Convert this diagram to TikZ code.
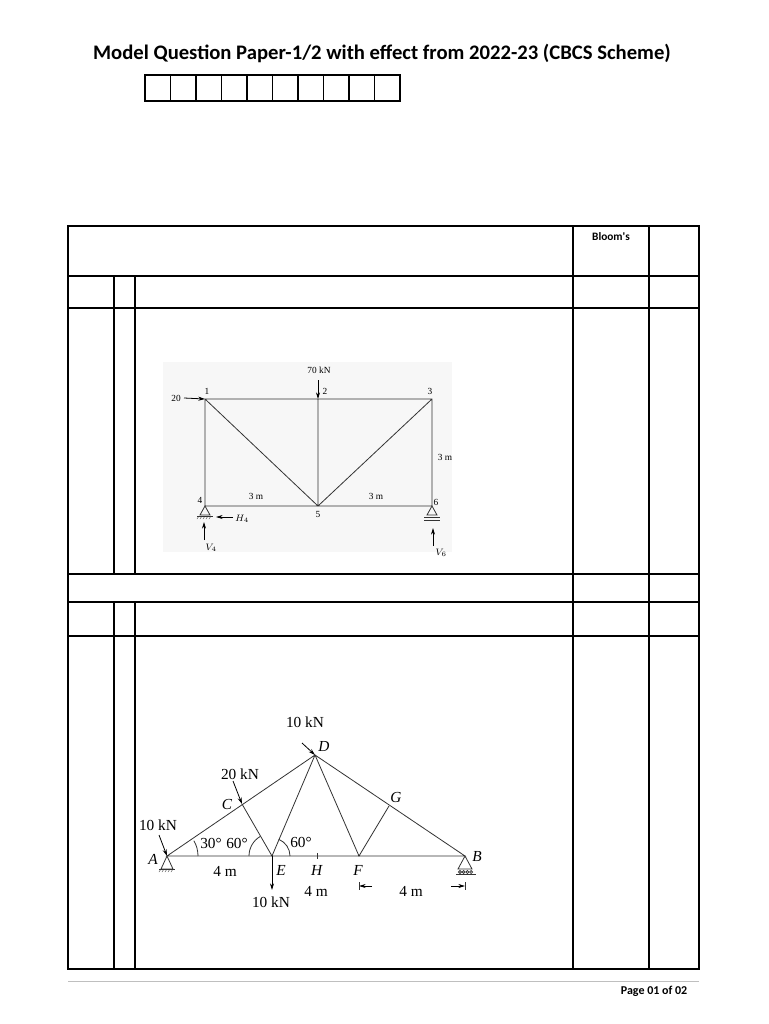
\documentclass[tikz,border=0pt]{standalone}
\usepackage{fontspec}
\setmainfont{Liberation Serif}
\newfontfamily\carl{Carlito}
\usetikzlibrary{arrows.meta}
\begin{document}
\begin{tikzpicture}[x=0.75pt,y=-0.75pt,
 tl/.style={draw=black,line width=0.8pt},
 mem/.style={draw=black!80,line width=0.6pt},
 frc/.style={draw=black,line width=0.6pt,-{Stealth[length=5pt,width=3pt]}},
 lbl/.style={inner sep=1pt,font=\fontsize{7}{8}\selectfont},
 lb2/.style={inner sep=1pt,font=\fontsize{11.5}{13}\selectfont}]
\useasboundingbox (0,0) rectangle (768,1024);
\fill[white] (0,0) rectangle (768,1024);
\node[font=\carl\bfseries\fontsize{15.5}{18}\selectfont] (title) at (382,53) {Model Question Paper-1/2 with effect from 2022-23 (CBCS Scheme)};
\foreach \i in {0,...,9} \draw[tl] (145+\i*25.5,75) rectangle (145+\i*25.5+25.5,101);
% table
\draw[tl] (68,226) rectangle (699,969);
\draw[tl] (573,226) -- (573,969) (649,226) -- (649,969);
\foreach \y in {276,308,574,602,636} \draw[tl] (68,\y) -- (699,\y);
\draw[tl] (114,276) -- (114,574) (135,276) -- (135,574);
\draw[tl] (114,602) -- (114,969) (135,602) -- (135,969);
\node[font=\carl\bfseries\fontsize{8.5}{10}\selectfont] (bl) at (611,237) {Bloom's};
% footer
\draw[black!25,line width=0.5pt] (68,981) -- (699,981);
\node[font=\carl\bfseries\fontsize{9}{11}\selectfont,anchor=east] (pg) at (692,991) {Page 01 of 02};
% truss 1
\fill[black!3] (163,362) rectangle (452,552);
\coordinate (n1) at (205,399); \coordinate (n2) at (318,399); \coordinate (n3) at (432,399);
\coordinate (n4) at (205,506); \coordinate (n5) at (318,506); \coordinate (n6) at (432,506);
\draw[mem] (n1) -- (n3) -- (n6) -- (n4) -- cycle (n1) -- (n5) -- (n3) (n2) -- (n5);
\node[lbl] (l1) at (207,391) {1};\node[lbl] (l2) at (325,391) {2};\node[lbl] (l3) at (430,391) {3};
\node[lbl] (l4) at (200,500) {4};\node[lbl] (l5) at (318,514) {5};\node[lbl] (l6) at (436,502) {6};
\node[lbl] (p70) at (319,370) {70 kN};
\coordinate (t70) at (318,380); \draw[frc] (t70) -- (n2);
\node[lbl] (p20) at (176,398) {20};
\coordinate (t20) at (184,398); \draw[frc] (t20) -- (n1);
\node[lbl] (d1) at (256,496) {3 m};\node[lbl] (d2) at (376,496) {3 m};\node[lbl] (d3) at (445,457) {3 m};
\draw[mem] (n4) -- (200,515) -- (210,515) -- cycle; \draw[mem] (197,516) -- (213,516);
\foreach \i in {0,...,4} \draw[mem,line width=0.3pt] (199+\i*3,516) -- (197+\i*3,519);
\coordinate (h4) at (233,517); \coordinate (h4e) at (216,517); \draw[frc] (h4) -- (h4e);
\node[lbl] (H4) at (242,519) {$H_4$};
\coordinate (v4s) at (204,540); \coordinate (v4e) at (204,522); \draw[frc] (v4s) -- (v4e);
\node[lbl] (V4) at (211,548) {$V_4$};
\draw[mem] (n6) -- (427,515) -- (437,515) -- cycle; \draw[mem] (424,517) -- (440,517) (424,520) -- (440,520);
\coordinate (v6s) at (433,546); \coordinate (v6e) at (433,528); \draw[frc] (v6s) -- (v6e);
\node[lbl] (V6) at (441,553) {$V_6$};
% truss 2
\coordinate (A) at (167,856); \coordinate (E) at (272,856); \coordinate (H) at (317,856);
\coordinate (F) at (359,856); \coordinate (B) at (465,856); \coordinate (D) at (315,755);
\coordinate (C) at (242,804); \coordinate (G) at (389,806);
\draw[mem] (A) -- (B) -- (D) -- cycle (C) -- (E) -- (D) -- (F) -- (G);
\draw[mem] (317,853) -- (317,859);
\node[lb2] (lD) at (324,746) {\textit{D}};\node[lb2] (lC) at (227,804) {\textit{C}};
\node[lb2] (lG) at (396,797) {\textit{G}};\node[lb2] (lA) at (153,859) {\textit{A}};
\node[lb2] (lB) at (477,856) {\textit{B}};\node[lb2] (lE) at (281,870) {\textit{E}};
\node[lb2] (lH) at (317,870) {\textit{H}};\node[lb2] (lF) at (358,870) {\textit{F}};
\node[lb2] (f1) at (305,722) {10 kN};\coordinate (f1s) at (302,743); \draw[frc] (f1s) -- (D);
\node[lb2] (f2) at (240,774) {20 kN};\coordinate (f2s) at (233,781); \draw[frc] (f2s) -- (C);
\node[lb2] (f3) at (158,825) {10 kN};\coordinate (f3s) at (159,835); \draw[frc] (f3s) -- (A);
\node[lb2] (f4) at (271,902) {10 kN};\coordinate (f4e) at (272,890); \draw[frc] (E) -- (f4e);
\draw[mem] (A) -- (161,869) -- (173,869) -- cycle; \draw[mem] (159,869) -- (175,869);
\foreach \i in {0,...,4} \draw[mem,line width=0.3pt] (161+\i*3,869) -- (159+\i*3,872);
\draw[mem] (B) -- (458,869) -- (472,869) -- cycle;
\foreach \i in {0,...,3} \draw[mem] (460+\i*3.7,872) circle[radius=1.1pt];
\draw[mem] (456,874) -- (476,874);
\draw[mem] (A) ++(31,0) arc[start angle=0,end angle=30,radius=23pt]; \node[lb2] (a30) at (211,843) {30°};
\draw[mem] (E) ++(-23,0) arc[start angle=180,end angle=120,radius=17pt]; \node[lb2] (a60) at (237,843) {60°};
\draw[mem] (E) ++(18,0) arc[start angle=0,end angle=68,radius=13.5pt]; \node[lb2] (a61) at (301,842) {60°};
\node[lb2] (m1) at (225,871) {4 m};\node[lb2] (m2) at (316,891) {4 m};\node[lb2] (m3) at (411,891) {4 m};
\coordinate (k1) at (359,886); \coordinate (k1b) at (372,886); \draw[frc] (k1b) -- (k1); \draw[mem] (359,882) -- (359,890);
\coordinate (k2) at (465,886); \coordinate (k2b) at (451,886); \draw[frc] (k2b) -- (k2); \draw[mem] (465,882) -- (465,890);
\end{tikzpicture}
\end{document}
